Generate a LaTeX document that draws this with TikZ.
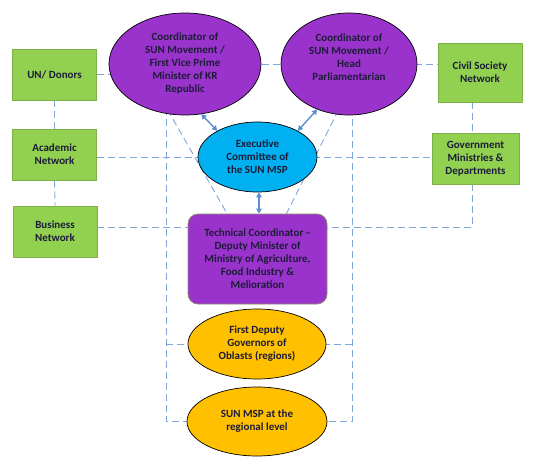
\documentclass[tikz,border=0pt]{standalone}
\usepackage{fontspec}
\setmainfont{Carlito}
\usetikzlibrary{shapes.geometric,arrows.meta,calc,backgrounds}
\definecolor{purp}{HTML}{9A33CC}
\definecolor{grn}{HTML}{92D050}
\definecolor{grnline}{HTML}{7FAF48}
\definecolor{cyanb}{HTML}{00B0F0}
\definecolor{yel}{HTML}{FFC000}
\definecolor{dashc}{HTML}{7EA6D9}
\definecolor{arrc}{HTML}{5B8FD0}
\definecolor{txt}{HTML}{1C1C38}
\definecolor{techline}{HTML}{8C8C6E}
\tikzset{
  lbl/.style={font=\bfseries\fontsize{11}{13}\selectfont, text=txt, align=center, inner sep=0pt},
  gbox/.style={lbl, draw=grnline, fill=grn, line width=0.8pt, minimum width=84pt, minimum height=51pt},
  ell/.style={lbl, ellipse, draw=black, line width=0.7pt},
  dline/.style={draw=dashc, line width=0.9pt, dash pattern=on 7pt off 4pt},
  arr/.style={draw=arrc, line width=1.4pt, {Triangle[width=5.5pt,length=5pt]}-{Triangle[width=5.5pt,length=5pt]}}
}
\begin{document}
\begin{tikzpicture}[x=1pt,y=-1pt]
\useasboundingbox (0,0) rectangle (533,468);
% green boxes
\node[gbox] (un) at (54.5,74.5) {UN/ Donors};
\node[gbox] (acad) at (54.5,154.5) {Academic\\Network};
\node[gbox] (bus) at (55,231.5) {Business\\Network};
\node[gbox, minimum height=59pt] (civ) at (480,72.5) {Civil Society\\Network};
\node[gbox, minimum width=87pt] (gov) at (475.5,158.5) {Government\\Ministries \&\\Departments};
% ellipses
\node[ell, fill=purp, minimum width=152pt, minimum height=102pt] (c1) at (185,64) {Coordinator of\\SUN Movement /\\First Vice Prime\\Minister of KR\\Republic};
\node[ell, fill=purp, minimum width=136pt, minimum height=102pt] (c2) at (349,64) {};
\node[lbl] (c2t) at ($(c2.center)+(0,-7)$) {Coordinator of\\SUN Movement /\\Head\\Parliamentarian};
\node[ell, fill=cyanb, minimum width=119pt, minimum height=70pt] (exec) at (257.5,157) {Executive\\Committee of\\the SUN MSP};
\node[lbl, draw=techline, line width=0.8pt, fill=purp, rounded corners=10pt, minimum width=139pt, minimum height=90pt] (tech) at (257.5,259) {Technical Coordinator\,–\\Deputy Minister of\\Ministry of Agriculture,\\Food Industry \&\\Melioration};
\node[ell, fill=yel, minimum width=138pt, minimum height=70pt] (fdg) at (257,344) {First Deputy\\Governors of\\Oblasts (regions)};
\node[ell, fill=yel, minimum width=140pt, minimum height=69pt] (reg) at (257,421.5) {SUN MSP at the\\regional level};
% helper coordinates
\coordinate (lv) at (166,0);
\coordinate (rv) at (352,0);
\coordinate (hb) at (0,227);
% dashed connectors behind the shapes
\begin{scope}[on background layer]
\fill[white] (0,0) rectangle (533,468);
\draw[dline] (un.east) -- (un.east -| c1.center);
\draw[dline] (c1.center) -- (c2.center);
\draw[dline] (c2.center) -- (c2.center -| civ.west);
\draw[dline] (un.south) -- (acad.north);
\draw[dline] (acad.south) -- (bus.north);
\draw[dline] ([xshift=-8pt]civ.south) -- ([xshift=-8pt]civ.south |- gov.north);
\draw[dline] (exec.center -| acad.east) -- (exec.center);
\draw[dline] (exec.center) -- (exec.center -| gov.west);
\draw[dline] (bus.east |- hb) -- (tech.center |- hb);
\draw[dline] ([xshift=-3.5pt]gov.south) -- ([xshift=-3.5pt]gov.south |- hb) -- (tech.center |- hb);
\draw[dline] (c1.center -| lv) -- (reg.center -| lv) -- (reg.center);
\draw[dline] (fdg.center -| lv) -- (fdg.center);
\draw[dline] (c2.center -| rv) -- (reg.center -| rv) -- (reg.center);
\draw[dline] (fdg.center -| rv) -- (fdg.center);
\draw[dline] ($(c1.center)+(-23,36)$) -- ($(tech.north)+(-27,6)$);
\draw[dline] ($(c2.center)+(-5.5,36)$) -- ($(tech.north)+(26,6)$);
\end{scope}
% arrows
\draw[arr] (c1.-72) -- (exec.147);
\draw[arr] (c2.-125) -- (exec.33);
\draw[arr] ([xshift=1.5pt]exec.south) -- ([xshift=1.5pt]tech.north);
\end{tikzpicture}
\end{document}
